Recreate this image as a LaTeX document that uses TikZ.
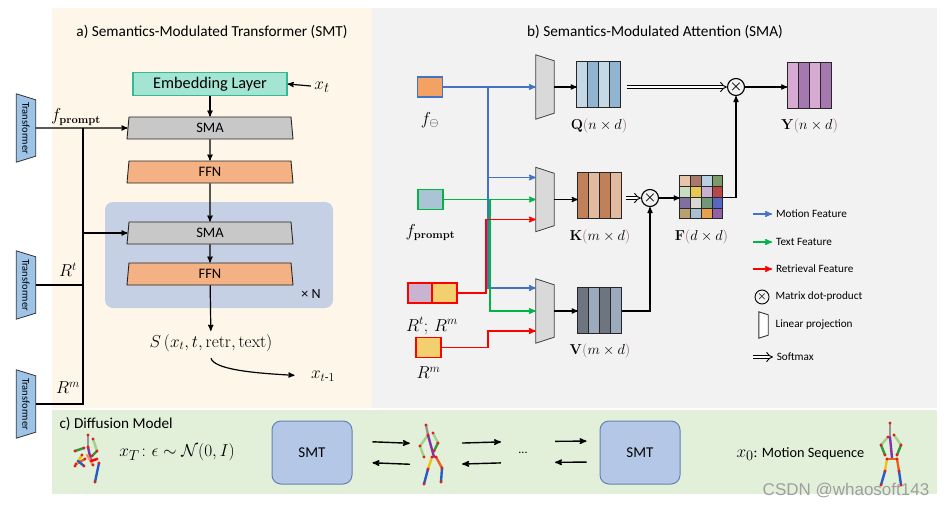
\documentclass[tikz,border=0pt]{standalone}
\usepackage{amsmath,amssymb}
\usepackage[no-math]{fontspec}
\setmainfont{Carlito}
\newfontfamily\wmfont{Liberation Sans}
\usepackage{tikz}
\usetikzlibrary{calc}
\usetikzlibrary{arrows,arrows.meta,shapes,positioning}
\newcommand{\Slant}[3]{\filldraw[#3] (#1.north west) -- ([yshift=-#2]#1.north east) -- ([yshift=#2]#1.south east) -- (#1.south west) -- cycle;}

\definecolor{panelA}{RGB}{254,247,233}
\definecolor{panelB}{RGB}{242,242,242}
\definecolor{panelC}{RGB}{226,239,217}
\definecolor{repBlue}{RGB}{197,208,228}
\definecolor{embFill}{RGB}{163,228,210}
\definecolor{embLine}{RGB}{52,185,150}
\definecolor{smaGray}{RGB}{200,200,200}
\definecolor{ffnOrange}{RGB}{244,177,131}
\definecolor{tfBlue}{RGB}{157,195,230}
\definecolor{smtFill}{RGB}{180,199,231}
\definecolor{smtLine}{RGB}{100,130,180}
\definecolor{motBlue}{RGB}{68,114,196}
\definecolor{txtGreen}{RGB}{0,180,70}
\definecolor{retRed}{RGB}{255,0,0}
\definecolor{projGray}{RGB}{217,217,217}
\definecolor{parBrown}{RGB}{150,110,110}
\definecolor{fOrange}{RGB}{244,162,100}
\definecolor{fpFill}{RGB}{170,196,214}
\definecolor{rPurple}{RGB}{200,180,208}
\definecolor{rYellow}{RGB}{242,208,110}
\definecolor{qa}{RGB}{196,216,230}
\definecolor{qb}{RGB}{145,181,208}
\definecolor{ka}{RGB}{192,128,90}
\definecolor{kb}{RGB}{226,186,160}
\definecolor{va}{RGB}{110,116,128}
\definecolor{vb}{RGB}{155,170,188}
\definecolor{ya}{RGB}{214,170,210}
\definecolor{yb}{RGB}{165,120,175}
\definecolor{fa}{RGB}{232,196,168}
\definecolor{fb}{RGB}{168,120,106}
\definecolor{fc}{RGB}{184,208,224}
\definecolor{fd}{RGB}{122,154,104}
\definecolor{fe}{RGB}{200,220,192}
\definecolor{ff}{RGB}{232,200,80}
\definecolor{fg}{RGB}{200,176,208}
\definecolor{fh}{RGB}{184,72,72}
\definecolor{fi}{RGB}{128,112,160}
\definecolor{fj}{RGB}{216,216,208}
\definecolor{fk}{RGB}{112,152,120}
\definecolor{fl}{RGB}{88,104,192}
\definecolor{fm}{RGB}{184,160,112}
\definecolor{fn}{RGB}{168,192,208}
\definecolor{fo}{RGB}{232,160,80}
\definecolor{fq}{RGB}{144,96,168}
\definecolor{headGray}{RGB}{150,150,150}
\definecolor{spinePurple}{RGB}{130,50,170}
\definecolor{armLight}{RGB}{160,210,140}
\definecolor{armDark}{RGB}{50,150,60}
\definecolor{legYellow}{RGB}{240,190,30}
\definecolor{legOrange}{RGB}{230,100,30}
\definecolor{shinBlue}{RGB}{40,90,200}
\definecolor{jointRed}{RGB}{225,30,30}

\begin{document}
\begin{tikzpicture}[x=1pt,y=-1pt,>=stealth',node distance=44pt,
    ttl/.style={font=\fontsize{15.3}{18}\selectfont},
    wire/.style={line width=1.2pt,black},
    layer/.style={trapezium,trapezium left angle=78,trapezium right angle=78,
      trapezium stretches body=true,minimum width=166pt,minimum height=22pt,inner sep=0pt,
      draw=black!85,line width=0.9pt,font=\fontsize{14.5}{16}\selectfont},
    tfbox/.style={rectangle,minimum width=19pt,minimum height=68pt,inner sep=0pt},
    tfm/.style={fill=tfBlue,draw=black!80,line width=0.8pt},
    tftext/.style={rotate=-90,font=\fontsize{10.5}{11}\selectfont},
    projbox/.style={rectangle,minimum width=18pt,minimum height=64pt,inner sep=0pt},
    proj/.style={fill=projGray,draw=black!75,line width=0.8pt},
    feat/.style={rectangle,minimum width=25pt,minimum height=20pt,inner sep=0pt,line width=1.4pt},
    mat/.style={rectangle,minimum width=44pt,minimum height=46pt,inner sep=0pt},
    dotp/.style={circle,draw,line width=1.1pt,minimum size=17pt,inner sep=0pt,font=\fontsize{15}{15}\selectfont},
    mlab/.style={font=\fontsize{17}{19}\selectfont},
    slab/.style={font=\fontsize{13.6}{15}\selectfont},
    lgd/.style={anchor=west,font=\fontsize{11.2}{13}\selectfont},
    sm/.style={double=white,double distance=2.6pt,line width=0.9pt,-{Implies}},
    mot/.style={line width=1.4pt,motBlue},
    txt/.style={line width=1.4pt,txtGreen},
    ret/.style={line width=1.4pt,retRed},
    smt/.style={rectangle,rounded corners=9pt,minimum width=80pt,minimum height=63pt,
      fill=smtFill,draw=smtLine,line width=1pt,font=\fontsize{15}{17}\selectfont},
    flow/.style={->,line width=1.4pt},
    skel/.style={minimum width=30pt,minimum height=62pt,inner sep=0pt},
    bone/.style={line width=2.4pt,line cap=round}]

  \useasboundingbox (0,0) rectangle (944,508);
  \fill[panelA] (52,8) rectangle (372,408);
  \fill[panelB] (372,8) rectangle (937,408);
  \fill[panelC] (52,410) rectangle (937,494);

  % a) SMT
  \node[ttl] (ttla) at (212,32) {a) Semantics-Modulated Transformer (SMT)};
  \node[rectangle,rounded corners=8pt,fill=repBlue,minimum width=228pt,minimum height=106pt] (rep) at (219,255) {};
  \node[rectangle,minimum width=154pt,minimum height=23pt,fill=embFill,draw=embLine,line width=1.2pt,
    font=\fontsize{16.3}{18}\selectfont] (emb) at (210,84) {Embedding Layer};
  \node[layer,fill=smaGray] (sma1) [below of=emb] {SMA};
  \node[layer,fill=ffnOrange] (ffn1) [below of=sma1] {FFN};
  \node[layer,fill=smaGray,node distance=61pt] (sma2) [below of=ffn1] {SMA};
  \node[layer,fill=ffnOrange,node distance=41pt] (ffn2) [below of=sma2] {FFN};
  \node[font=\fontsize{14}{16}\selectfont] (times) at (311,294) {× N};
  \node[mlab] (score) at (211,343) {$S\,(x_t, t, \mathrm{retr}, \mathrm{text})$};
  \node[mlab] (xprev) at (323,376) {$x_{t\text{-}1}$};
  \node[font=\fontsize{19}{21}\selectfont] (xt) at (322,87) {$x_t$};

  \draw [style=->, wire] (xt) -- (emb.east);
  \draw [style=->, wire] (emb) -- (sma1);
  \draw [style=->, wire] (sma1) -- (ffn1);
  \draw [style=->, wire] (ffn1) -- (sma2);
  \draw [style=->, wire] (sma2) -- (ffn2);
  \draw [style=->, wire] (ffn2) -- (score);
  \draw [style=->, wire, shorten >=13pt] ([yshift=-3pt]score.south) .. controls (214,369) and (250,373) .. (xprev.west);

  \node[tfbox] (tf1) at (26,128) {};
  \node[tfbox] (tf2) at (26,285) {};
  \node[tfbox] (tf3) at (26,404) {};
  \Slant{tf1}{6pt}{tfm}
  \Slant{tf2}{6pt}{tfm}
  \Slant{tf3}{6pt}{tfm}
  \node[tftext] (tf1t) at (tf1) {Transformer};
  \node[tftext] (tf2t) at (tf2) {Transformer};
  \node[tftext] (tf3t) at (tf3) {Transformer};
  \coordinate (bus) at (83,128);
  \draw [style=->, wire] (tf1.east) -- (sma1.west);
  \draw [wire] (tf3.east) -| (bus);
  \draw [wire] (tf2.east) -- (tf2.east -| bus);
  \draw [style=->, wire] (sma2.west -| bus) -- (sma2.west);
  \node[font=\fontsize{16}{18}\selectfont] (lfp) at (76,117) {$f_{\mathbf{prompt}}$};
  \node[mlab] (lrt) at (68,270) {$R^t$};
  \node[mlab] (lrm) at (68,388) {$R^m$};

  % b) SMA
  \node[ttl] (ttlb) at (655,32) {b) Semantics-Modulated Attention (SMA)};
  \node[feat,fill=fOrange,draw=motBlue] (ftheta) at (430,87) {};
  \node[mlab,node distance=33pt] (lftheta) [below of=ftheta] {$f_{\ominus}$};
  \node[feat,fill=fpFill,draw=txtGreen] (fp) at (430.5,199.5) {};
  \node[font=\fontsize{16}{18}\selectfont,node distance=33pt] (lfp2) [below of=fp] {$f_{\mathbf{prompt}}$};
  \node[feat,minimum width=24pt,fill=rPurple,draw=retRed] (rtb) at (420,293) {};
  \node[feat,fill=rYellow,draw=retRed,node distance=24.5pt] (rmb1) [right of=rtb] {};
  \node[mlab] (lrtm) at (432,326) {$R^t;\, R^m$};
  \node[feat,fill=rYellow,draw=retRed] (rmb) at (428.5,347.5) {};
  \node[mlab,node distance=25pt] (lrm2) [below of=rmb] {$R^m$};

  \node[projbox] (pq) at (545,87) {};
  \node[projbox] (pk) at (545,199.5) {};
  \node[projbox] (pv) at (545,311) {};
  \Slant{pq}{6pt}{proj}
  \Slant{pk}{6pt}{proj}
  \Slant{pv}{6pt}{proj}
  \node[mat] (qm) at (599,85) {};
  \node[mat] (km) at (600,196) {};
  \node[mat] (vm) at (600,311) {};
  \node[mat] (ym) at (809.5,86) {};
  \node[rectangle,minimum size=43pt,inner sep=0pt] (fm) at (701.5,197.5) {};
  \foreach \c [count=\j from 0] in {qa,qb,qa,qb}
    \filldraw[fill=\c,draw=black!85,line width=0.9pt] ($(qm.north west)+(\j*11,0)$) rectangle ++(11,46);
  \foreach \c [count=\j from 0] in {ka,kb,ka,kb}
    \filldraw[fill=\c,draw=black!85,line width=0.9pt] ($(km.north west)+(\j*11,0)$) rectangle ++(11,46);
  \foreach \c [count=\j from 0] in {va,vb,va,vb}
    \filldraw[fill=\c,draw=black!85,line width=0.9pt] ($(vm.north west)+(\j*11,0)$) rectangle ++(11,46);
  \foreach \c [count=\j from 0] in {ya,yb,ya,yb}
    \filldraw[fill=\c,draw=black!85,line width=0.9pt] ($(ym.north west)+(\j*11,0)$) rectangle ++(11,46);
  \foreach \r/\cl in {0/{fa,fb,fc,fd},1/{fe,ff,fg,fh},2/{fi,fj,fk,fl},3/{fm,fn,fo,fq}}
    \foreach \c [count=\j from 0] in \cl
      \filldraw[fill=\c,draw=black!85,line width=0.8pt] ($(fm.north west)+(\j*10.75,\r*10.75)$) rectangle ++(10.75,10.75);
  \node[slab,node distance=41pt] (lq) [below of=qm] {$\mathbf{Q}{\color{parBrown}(}n\times d{\color{parBrown})}$};
  \node[slab,node distance=41pt] (lk) [below of=km] {$\mathbf{K}{\color{parBrown}(}m\times d{\color{parBrown})}$};
  \node[slab,node distance=40pt] (lv) [below of=vm] {$\mathbf{V}{\color{parBrown}(}m\times d{\color{parBrown})}$};
  \node[slab,node distance=40pt] (ly) [below of=ym] {$\mathbf{Y}{\color{parBrown}(}n\times d{\color{parBrown})}$};
  \node[slab,node distance=39pt] (lf) [below of=fm] {$\mathbf{F}{\color{parBrown}(}d\times d{\color{parBrown})}$};
  \node[dotp] (mq) at (736,87) {$\boldsymbol{\times}$};
  \node[dotp] (mk) at (650,198) {$\boldsymbol{\times}$};

  \coordinate (bj) at (488,87);
  \coordinate (gj) at (490,199.5);
  \coordinate (rj) at (486,293);
  \draw [style=->, mot] (ftheta.east) -- (pq.west);
  \draw [style=->, mot] (bj) |- ([yshift=22pt]pk.west);
  \draw [style=->, mot] (bj) |- ([yshift=23pt]pv.west);
  \draw [style=->, txt] (gj) |- (pv.west);
  \draw [style=->, txt] (fp.east) -- (pk.west);
  \draw [style=->, ret] (rmb1.east) -- (rj) |- ([yshift=-20pt]pk.west);
  \draw [style=->, ret] (rmb.east) -- (rmb.east -| bj) |- ([yshift=-20pt]pv.west);
  \draw [style=->, wire] (pq.east) -- (qm.west |- pq.east);
  \draw [style=->, wire] (pk.east) -- (km.west |- pk.east);
  \draw [style=->, wire] (pv.east) -- (vm.west |- pv.east);
  \draw [sm] ([xshift=6pt]qm.east |- mq.west) -- (mq.west);
  \draw [style=->, wire] (mq.east) -- (ym.west |- mq.east);
  \draw [sm] ([xshift=4pt]km.east |- mk.west) -- (mk.west);
  \draw [style=->, wire] (mk.east) -- (fm.west |- mk.east);
  \draw [style=->, wire] (fm.east) -| (mq.south);
  \draw [style=->, wire] (vm.east) -| (mk.south);

  % legend
  \coordinate (lg1) at (753,214);
  \coordinate (lg2) at (753,242);
  \coordinate (lg3) at (753,269);
  \draw [style=->, mot] (lg1) -- ++(19,0) node[lgd,black] (lgm) {Motion Feature};
  \draw [style=->, txt] (lg2) -- ++(19,0) node[lgd,black] (lgt) {Text Feature};
  \draw [style=->, ret] (lg3) -- ++(19,0) node[lgd,black] (lgr) {Retrieval Feature};
  \node[dotp,minimum size=14pt,line width=0.9pt,font=\fontsize{11}{11}\selectfont] (lgx) at (762,297) {$\boldsymbol{\times}$};
  \node[lgd] (lgxt) at (772,297) {Matrix dot-product};
  \node[projbox,minimum width=9pt,minimum height=26pt] (lgp) at (763.5,325) {};
  \Slant{lgp}{3pt}{fill=white,draw=black!80,line width=0.9pt}
  \node[lgd] (lgpt) at (772,325) {Linear projection};
  \coordinate (lg4) at (753,357);
  \draw [sm] (lg4) -- ++(20,0) node[lgd] (lgs) {Softmax};

  % c) diffusion
  \node[anchor=west,font=\fontsize{15.2}{17}\selectfont] (ttlc) at (56,424) {c) Diffusion Model};
  \node[skel] (sk1) at (87,457) {};
  \node[font=\fontsize{19}{21}\selectfont] (xT) at (177,452) {$x_T\colon \epsilon \sim \mathcal{N}(0,I)$};
  \node[smt] (smt1) at (312,452.5) {SMT};
  \node[skel] (sk2) at (431,455) {};
  \node[font=\fontsize{12}{12}\selectfont] (dots) at (523,453) {...};
  \node[smt] (smt2) at (640,452.5) {SMT};
  \node[anchor=west,font=\fontsize{14.3}{16}\selectfont] (x0) at (733,454) {{\fontsize{19}{21}\selectfont$x_0$}: Motion Sequence};
  \node[skel] (sk3) at (891,455) {};

  \draw [flow, shorten <=20pt, shorten >=6pt] ([yshift=11.5pt]smt1.east) -- ([yshift=11.5pt]sk2.west);
  \draw [flow, shorten >=20pt, shorten <=6pt] ([yshift=-9.5pt]sk2.west) -- ([yshift=-9.5pt]smt1.east);
  \draw [flow, shorten <=16pt, shorten >=14pt] ([yshift=11.5pt]sk2.east) -- ([yshift=11.5pt]dots.west);
  \draw [flow, shorten >=16pt, shorten <=14pt] ([yshift=-9.5pt]dots.west) -- ([yshift=-9.5pt]sk2.east);
  \draw [flow, shorten <=24pt, shorten >=13pt] ([yshift=11.5pt]dots.east) -- ([yshift=11.5pt]smt2.west);
  \draw [flow, shorten >=24pt, shorten <=13pt] ([yshift=-9.5pt]smt2.west) -- ([yshift=-9.5pt]dots.east);

  \begin{scope}[shift={(sk1.center)}]
    \draw[bone,headGray] (1,-22) -- (1,-10);
    \draw[bone,spinePurple] (1,-10) -- (4,4);
    \draw[bone,armDark] (-12,-6) -- (-3,-9);
    \draw[bone,armLight] (6,-18) -- (10,-6);
    \draw[bone,armDark] (10,-6) -- (5,-1);
    \draw[bone,legOrange] (-11,7) -- (-2,2);
    \draw[bone,legYellow] (-5,-2) -- (-12,9);
    \draw[bone,shinBlue] (-9,4) -- (-3,9);
    \draw[bone,legOrange!70] (0,-2) -- (6,8);
    \draw[bone,retRed] (4,4) -- (10,2);
    \draw[bone,shinBlue] (12,6) -- (8,25);
    \foreach \p in {(1,-22),(1,-10),(-12,-6),(-3,-9),(6,-18),(10,-6),(5,-1),(-11,7),(-2,2),(-12,9),(-5,-2),(-3,9),(6,8),(10,2),(12,6),(8,25)}
      \fill[jointRed] \p circle (1.6);
  \end{scope}
  \begin{scope}[shift={(sk2.center)}]
    \draw[bone,headGray] (-5,-30) -- (-3,-20);
    \draw[bone,armLight] (-3,-20) -- (-11,-9) -- (-7,2);
    \draw[bone,armLight] (2,-22) -- (7,-12);
    \draw[bone,armDark] (7,-12) -- (3,-4);
    \draw[bone,spinePurple] (-3,-20) -- (3,2);
    \draw[bone,legYellow] (1,2) -- (-3,14);
    \draw[bone,legOrange] (5,2) -- (11,13);
    \draw[bone,shinBlue] (-3,14) -- (-7,29);
    \draw[bone,shinBlue] (11,13) -- (10,27);
    \foreach \p in {(-5,-30),(-3,-20),(-11,-9),(-7,2),(2,-22),(7,-12),(3,-4),(1,2),(5,2),(-3,14),(11,13),(-7,29),(10,27)}
      \fill[jointRed] \p circle (1.6);
  \end{scope}
  \begin{scope}[shift={(sk3.center)}]
    \draw[bone,headGray] (-1,-32) -- (-1,-18);
    \draw[bone,armLight] (-3,-18) -- (-10,-10);
    \draw[bone,armDark] (-10,-10) -- (-6,0);
    \draw[bone,armLight] (3,-20) -- (10,-10);
    \draw[bone,armDark] (10,-10) -- (6,0);
    \draw[bone,spinePurple] (-1,-18) -- (1,3);
    \draw[bone,legOrange] (-4,4) -- (6,4);
    \draw[bone,legYellow] (-4,4) -- (-6,16);
    \draw[bone,legOrange] (6,4) -- (8,16);
    \draw[bone,shinBlue] (-6,16) -- (-10,30);
    \draw[bone,shinBlue] (8,16) -- (10,30);
    \foreach \p in {(-1,-32),(-3,-18),(-10,-10),(-6,0),(3,-20),(10,-10),(6,0),(-4,4),(6,4),(-6,16),(8,16),(-10,30),(10,30)}
      \fill[jointRed] \p circle (1.6);
  \end{scope}

  \node[text=gray!75,font=\wmfont\fontsize{17}{19}\selectfont] (wm) at (846,491) {CSDN @whaosoft143};
\end{tikzpicture}
\end{document}
